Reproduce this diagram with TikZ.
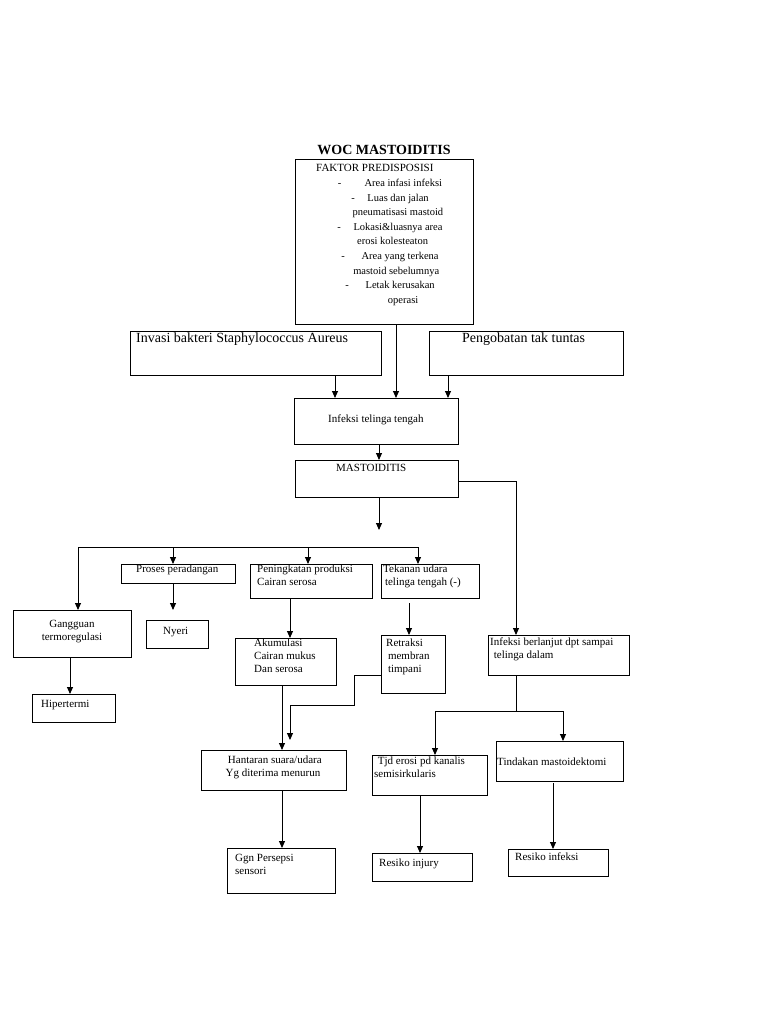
\documentclass[tikz,border=0pt]{standalone}
\usepackage{fontspec}
\setmainfont{Liberation Serif}
\usetikzlibrary{arrows.meta}
\begin{document}
\begin{tikzpicture}[x=1pt,y=-1pt,
  box/.style={draw,line width=0.9pt,anchor=north west,inner sep=0pt},
  txt/.style={anchor=north west,inner sep=0pt,font=\fontsize{11}{13}\selectfont,align=left},
  ar/.style={line width=0.9pt,-{Triangle[length=7pt,width=6pt]}},
  ln/.style={line width=0.9pt}]
\useasboundingbox (0,0) rectangle (768,1024);
\node[font=\bfseries\fontsize{14}{16}\selectfont] (title) at (384,150) {WOC MASTOIDITIS};
% boxes
\node[box,minimum width=178,minimum height=165] (fp) at (295,159) {};
\node[box,minimum width=251,minimum height=44] (inv) at (130,331) {};
\node[box,minimum width=194,minimum height=44] (peng) at (429,331) {};
\node[box,minimum width=164,minimum height=46] (itt) at (294,398) {};
\node[box,minimum width=163,minimum height=37] (mas) at (295,460) {};
\node[box,minimum width=118,minimum height=47] (gang) at (13,610) {};
\node[box,minimum width=114,minimum height=19] (pros) at (121,564) {};
\node[box,minimum width=122,minimum height=34] (pen) at (250,564) {};
\node[box,minimum width=98,minimum height=34] (tek) at (381,564) {};
\node[box,minimum width=62,minimum height=28] (nyeri) at (146,620) {};
\node[box,minimum width=83,minimum height=28] (hip) at (32,694) {};
\node[box,minimum width=101,minimum height=47] (aku) at (235,638) {};
\node[box,minimum width=64,minimum height=58] (ret) at (381,635) {};
\node[box,minimum width=145,minimum height=40] (han) at (201,750) {};
\node[box,minimum width=108,minimum height=45] (ggn) at (227,848) {};
\node[box,minimum width=141,minimum height=40] (inf) at (488,635) {};
\node[box,minimum width=115,minimum height=40] (tjd) at (372,755) {};
\node[box,minimum width=127,minimum height=40] (tin) at (496,741) {};
\node[box,minimum width=100,minimum height=28] (rinj) at (372,853) {};
\node[box,minimum width=100,minimum height=27] (rinf) at (508,849) {};
% texts
\node[txt] (tfp) at (316,164) {FAKTOR PREDISPOSISI};
\node[txt,anchor=north,align=center,font=\fontsize{10.5}{14.6}\selectfont] (tfp2) at (390,179)
 {-\hspace{2.2em}Area infasi infeksi\\
  -\hspace{1.2em}Luas dan jalan\\
  \hspace{1.5em}pneumatisasi mastoid\\
  -\hspace{1.2em}Lokasi\&luasnya area\\
  \hspace{0.5em}erosi kolesteaton\\
  -\hspace{1.6em}Area yang terkena\\
  \hspace{1.2em}mastoid sebelumnya\\
  -\hspace{1.6em}Letak kerusakan\\
  \hspace{2.5em}operasi};
\node[txt,font=\fontsize{14}{16}\selectfont] (tinv) at (136,333) {Invasi bakteri Staphylococcus Aureus};
\node[txt,font=\fontsize{14}{16}\selectfont] (tpeng) at (462,333) {Pengobatan tak tuntas};
\node[txt] (titt) at (328,415) {Infeksi telinga tengah};
\node[txt] (tmas) at (336,464) {MASTOIDITIS};
\node[txt,anchor=north,align=center] (tgang) at (72,620) {Gangguan\\termoregulasi};
\node[txt] (tpros) at (136,565) {Proses peradangan};
\node[txt] (tpen) at (257,565) {Peningkatan produksi\\Cairan serosa};
\node[txt] (ttek) at (383,565) {Tekanan udara\\\,telinga tengah (-)};
\node[txt] (tnyeri) at (163,627) {Nyeri};
\node[txt] (thip) at (41,700) {Hipertermi};
\node[txt,align=left] (taku) at (254,639) {Akumulasi\\Cairan mukus\\Dan serosa};
\node[txt] (tret) at (386,639) {Retraksi\\\,membran\\\,timpani};
\node[txt,align=center,anchor=north] (than) at (273,756) {\,\,Hantaran suara/udara\\Yg diterima menurun};
\node[txt] (tggn) at (235,854) {Ggn Persepsi\\sensori};
\node[txt] (tinf) at (490,638) {Infeksi berlanjut dpt sampai\\\,\,telinga dalam};
\node[txt] (ttjd) at (374,757) {\,\,Tjd erosi pd kanalis\\semisirkularis};
\node[txt] (ttin) at (497,758) {Tindakan mastoidektomi};
\node[txt] (trinj) at (379,859) {Resiko injury};
\node[txt] (trinf) at (515,853) {Resiko infeksi};
% connectors
\draw[ar] (inv.south -| 335,0) -- (itt.north -| 335,0);
\draw[ar] (fp.south -| 396,0) -- (itt.north -| 396,0);
\draw[ar] (peng.south -| 448,0) -- (itt.north -| 448,0);
\draw[ar] (itt.south -| 379,0) -- (mas.north -| 379,0);
\coordinate (mend) at (379,530);
\draw[ar] (mas.south -| 379,0) -- (mend);
\draw[ar] (mas.east |- 0,481) -| (inf.north -| 516,0);
\coordinate (hl) at (78,547); \coordinate (hr) at (418,547);
\draw[ln] (hl) -- (hr);
\draw[ar] (hl) -- (gang.north -| hl);
\draw[ar] (173,547) -- (pros.north -| 173,0);
\draw[ar] (308,547) -- (pen.north -| 308,0);
\draw[ar] (hr) -- (tek.north -| hr);
\draw[ar] (pros.south -| 173,0) -- (173,610);
\draw[ar] (gang.south -| 70,0) -- (hip.north -| 70,0);
\draw[ar] (pen.south -| 290,0) -- (aku.north -| 290,0);
\draw[ar] (409,603) -- (ret.north -| 409,0);
\draw[ar] (aku.south -| 282,0) -- (han.north -| 282,0);
\draw[ar] (ret.west |- 0,675) -- (354,675) -- (354,705) -- (290,705) -- (290,740);
\draw[ar] (han.south -| 282,0) -- (ggn.north -| 282,0);
\draw[ln] (inf.south -| 516,0) -- (516,711);
\draw[ln] (435,711) -- (563,711);
\draw[ar] (435,711) -- (tjd.north -| 435,0);
\draw[ar] (563,711) -- (tin.north -| 563,0);
\draw[ar] (tjd.south -| 420,0) -- (rinj.north -| 420,0);
\draw[ar] (553,783) -- (rinf.north -| 553,0);
\end{tikzpicture}
\end{document}
